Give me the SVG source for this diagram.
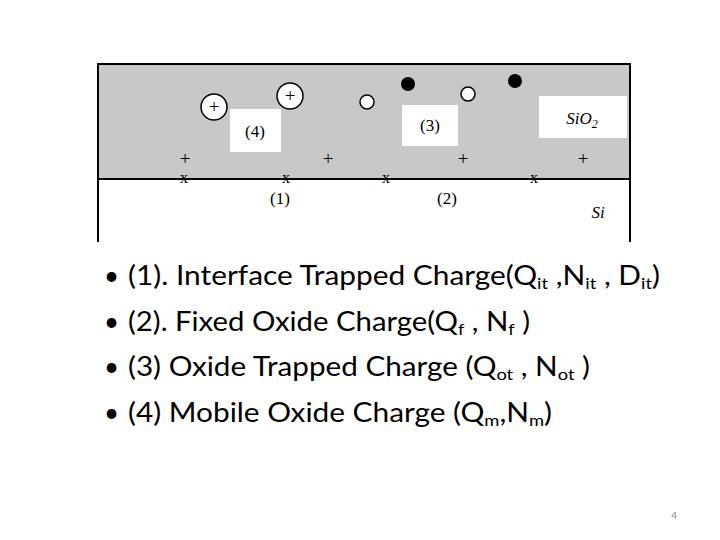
<svg xmlns="http://www.w3.org/2000/svg" width="720" height="540" viewBox="0 0 720 540">
<style>
.t{font-family:"Liberation Serif",serif;font-size:17px;fill:#000}
.b{font-family:Lato,"Open Sans",sans-serif;font-size:26px;fill:#000}
.s{font-size:16px}
.m{font-family:"Liberation Serif",serif;font-size:19px;fill:#000}
</style>
<rect width="720" height="540" fill="#fff"/>
<g id="oxide">
<rect x="98" y="64" width="532" height="115" fill="#c8c8c8"/>
<path d="M98 242V64H630V242M98 179H630" fill="none" stroke="#000" stroke-width="2"/>
</g>
<g id="boxes" fill="#fff">
<rect x="230" y="109" width="51" height="43"/>
<rect x="402" y="105" width="56" height="41"/>
<rect x="539" y="96" width="88" height="42"/>
</g>
<g id="charges">
<circle cx="214" cy="107" r="13" fill="#fff" stroke="#000" stroke-width="1.5"/>
<circle cx="290" cy="96" r="13" fill="#fff" stroke="#000" stroke-width="1.5"/>
<circle cx="367" cy="102" r="7" fill="#fff" stroke="#000" stroke-width="1.5"/>
<circle cx="468" cy="94" r="7" fill="#fff" stroke="#000" stroke-width="1.5"/>
<circle cx="408" cy="84" r="7" fill="#000"/>
<circle cx="515" cy="81" r="7" fill="#000"/>
<text class="m" x="214" y="113" text-anchor="middle">+</text>
<text class="m" x="290" y="102" text-anchor="middle">+</text>
<g class="m" text-anchor="middle">
<text x="185" y="165">+</text><text x="328" y="165">+</text><text x="463" y="165">+</text><text x="583" y="165">+</text>
<text x="184" y="183" font-size="16">x</text><text x="286" y="183" font-size="16">x</text><text x="386" y="183" font-size="16">x</text><text x="534" y="183" font-size="16">x</text>
</g>
</g>
<g id="labels" class="t" text-anchor="middle">
<text x="255" y="137">(4)</text>
<text x="430" y="131">(3)</text>
<text x="280" y="204">(1)</text>
<text x="447" y="204">(2)</text>
<text x="582" y="124" font-style="italic">SiO<tspan font-size="12" dy="4">2</tspan></text>
<text x="598" y="218" font-style="italic">Si</text>
</g>
<g id="bullets" class="b">
<text x="104" y="285">•</text><text x="104" y="331">•</text><text x="104" y="376">•</text><text x="104" y="422">•</text>
<text x="128" y="285" textLength="532" lengthAdjust="spacingAndGlyphs">(1). Interface Trapped Charge(Q<tspan class="s" dy="4">it</tspan><tspan dy="-4"> ,N</tspan><tspan class="s" dy="4">it</tspan><tspan dy="-4"> , D</tspan><tspan class="s" dy="4">it</tspan><tspan dy="-4">)</tspan></text>
<text x="128" y="331" textLength="402" lengthAdjust="spacingAndGlyphs">(2). Fixed Oxide Charge(Q<tspan class="s" dy="4">f</tspan><tspan dy="-4"> , N</tspan><tspan class="s" dy="4">f</tspan><tspan dy="-4"> )</tspan></text>
<text x="128" y="376" textLength="462" lengthAdjust="spacingAndGlyphs">(3) Oxide Trapped Charge (Q<tspan class="s" dy="4">ot</tspan><tspan dy="-4"> , N</tspan><tspan class="s" dy="4">ot</tspan><tspan dy="-4"> )</tspan></text>
<text x="128" y="422" textLength="424" lengthAdjust="spacingAndGlyphs">(4) Mobile Oxide Charge (Q<tspan class="s" dy="4">m</tspan><tspan dy="-4">,N</tspan><tspan class="s" dy="4">m</tspan><tspan dy="-4">)</tspan></text>
</g>
<text x="677" y="519" font-family="Lato,sans-serif" font-size="10" fill="#888" text-anchor="end">4</text>
</svg>
